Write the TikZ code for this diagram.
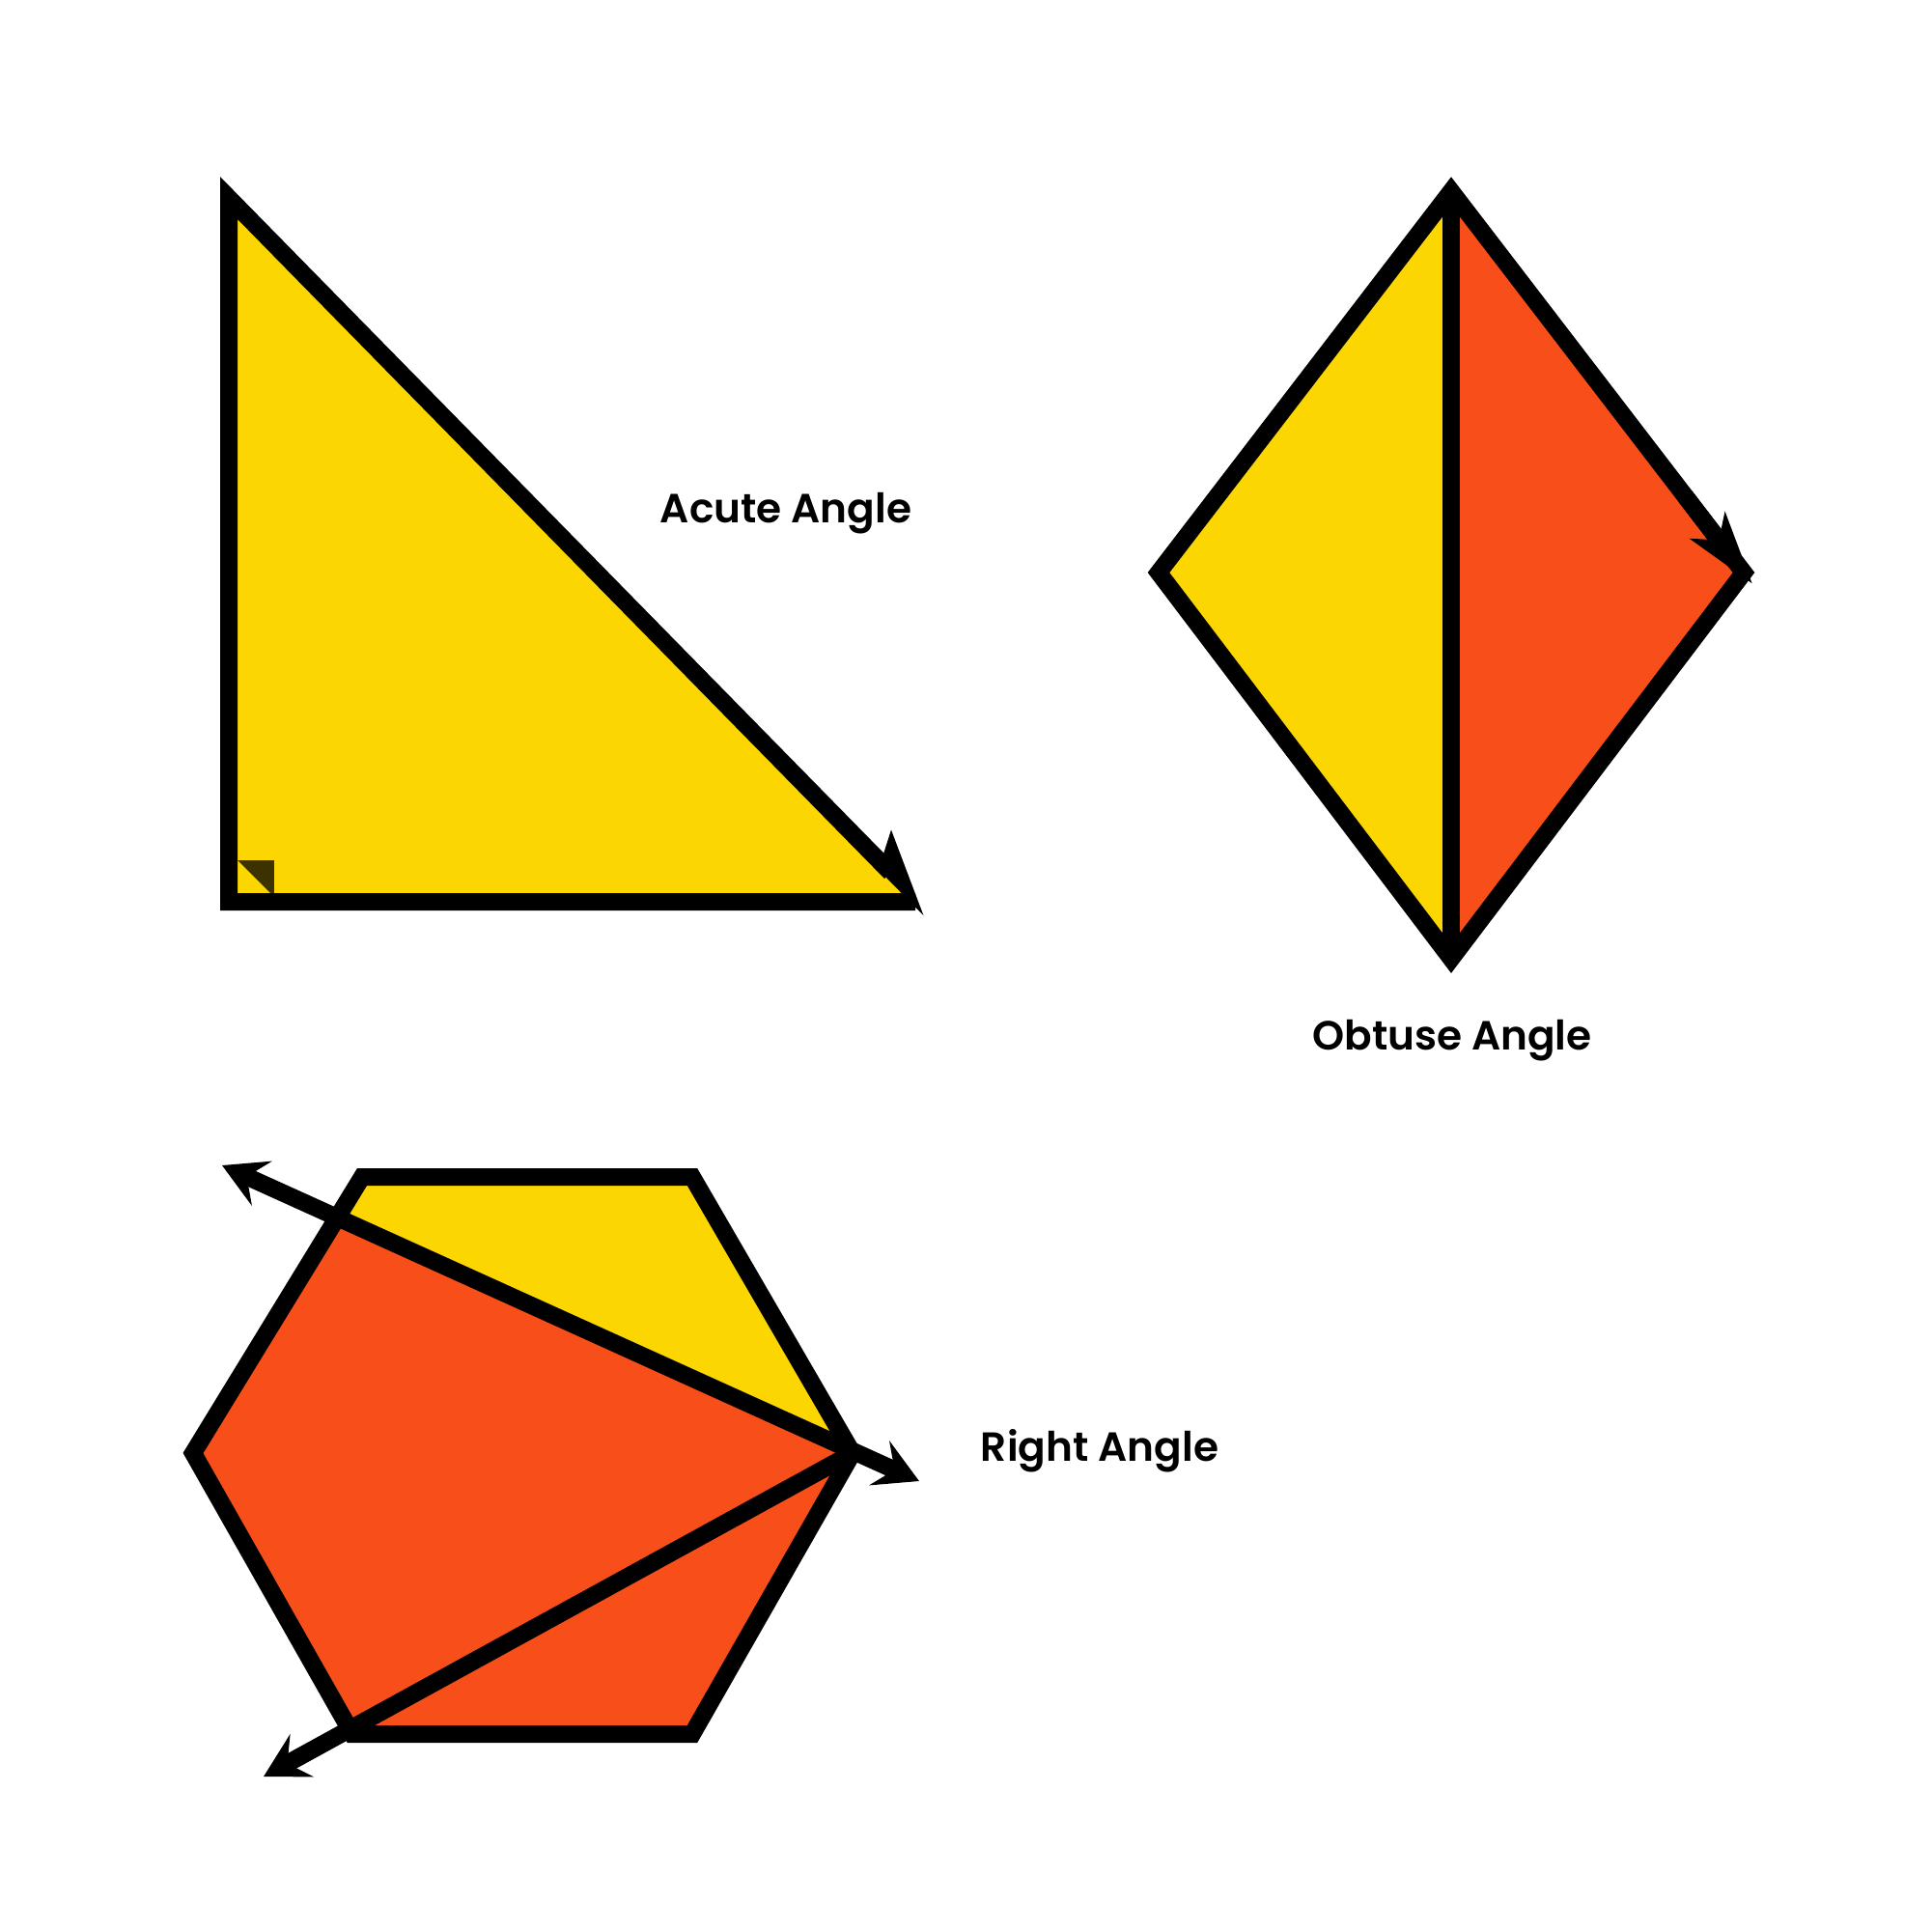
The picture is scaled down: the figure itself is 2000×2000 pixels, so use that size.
\documentclass[tikz,border=0pt]{standalone}
\usepackage{fontspec}
\setmainfont{Poppins}[BoldFont={Poppins SemiBold}]
\usetikzlibrary{calc, arrows.meta}
\definecolor{shapeyellow}{RGB}{252, 214, 0}
\definecolor{shapeorange}{RGB}{248, 78, 26}
\definecolor{markfill}{RGB}{60, 50, 0}
\tikzset{
    outline/.style={line width=1.8mm, line join=miter, miter limit=20},
    anglelabel/.style={font=\bfseries\fontsize{12}{14}\selectfont},
    endtip/.style={-{Stealth[length=#1, width=5mm, inset=1.7mm]}},
    endtip/.default=4.5mm,
    narrowtip/.style={-{Stealth[length=#1, width=4.4mm, inset=1.8mm]}},
    halftip/.style={-{Stealth[length=#1, width=6mm, inset=1.5mm, harpoon]}},
    bothtips/.style={{Stealth[length=4.5mm, width=5mm, inset=1.7mm]}-%
        {Stealth[length=4.5mm, width=5mm, inset=1.7mm]}},
}

\begin{document}
\begin{tikzpicture}[x=0.1mm, y=-0.1mm]
        \useasboundingbox (0, 0) rectangle (2000, 2000);
        \fill[white] (0, 0) rectangle (2000, 2000);

        % right triangle
        \coordinate (acutetop) at (237, 205);
        \coordinate (acutecorner) at (237, 934);
        \coordinate (acuteright) at (948, 934);
        \coordinate (acutetip) at (962, 944);
        \fill[shapeyellow] (acutetop) -- (acutecorner) -- (acuteright) -- cycle;
        \fill[markfill] ($(acutecorner)+(9, -9)$) rectangle ++(38, -34);
        \fill[shapeyellow] ($(acutecorner)+(9, -43)$) -- ($(acutecorner)+(9, -9)$)
            -- ($(acutecorner)+(43, -9)$) -- cycle;
        \draw[outline, halftip=7mm] (acuteright) -- (acutecorner) -- (acutetop)
            -- (acutetip);
        \node[anglelabel] (acutelabel) at (814, 532) {Acute Angle};

        % rhombus
        \coordinate (rhtop) at (1503, 198);
        \coordinate (rhleft) at (1200, 593);
        \coordinate (rhright) at (1806, 593);
        \coordinate (rhbottom) at (1503, 993);
        \fill[shapeyellow] (rhtop) -- (rhleft) -- (rhbottom) -- cycle;
        \fill[shapeorange] (rhtop) -- (rhright) -- (rhbottom) -- cycle;
        \draw[outline] (rhtop) -- (rhleft) -- (rhbottom) -- (rhright) -- cycle;
        \draw[outline] (rhtop) -- (rhbottom);
        \draw[outline, narrowtip=7.5mm] ($(rhtop)!.8!(rhright)$)
            -- ($(rhtop)!1.03!(rhright)$);
        \node[anglelabel] (obtuselabel) at (1504, 1078) {Obtuse Angle};

        % hexagon
        \coordinate (hexA) at (375, 1219);
        \coordinate (hexB) at (717, 1219);
        \coordinate (hexC) at (883, 1505);
        \coordinate (hexD) at (717, 1796);
        \coordinate (hexE) at (365, 1796);
        \coordinate (hexF) at (200, 1505);
        \coordinate (rayup) at (230, 1207);
        \coordinate (rayright) at (952, 1534);
        \coordinate (raydown) at (273, 1840);
        \coordinate (cross) at (intersection of hexA--hexF and rayup--rayright);
        \fill[shapeorange] (hexA) -- (hexB) -- (hexC) -- (hexD) -- (hexE)
            -- (hexF) -- cycle;
        \fill[shapeyellow] (cross) -- (hexA) -- (hexB) -- (hexC) -- cycle;
        \draw[outline] (hexA) -- (hexB) -- (hexC) -- (hexD) -- (hexE) -- (hexF)
            -- cycle;
        \draw[outline, bothtips] (rayup) -- (rayright);
        \draw[outline, endtip] (hexC) -- (raydown);
        \node[anglelabel] (rightlabel) at (1139, 1503) {Right Angle};
    \end{tikzpicture}
\end{document}
